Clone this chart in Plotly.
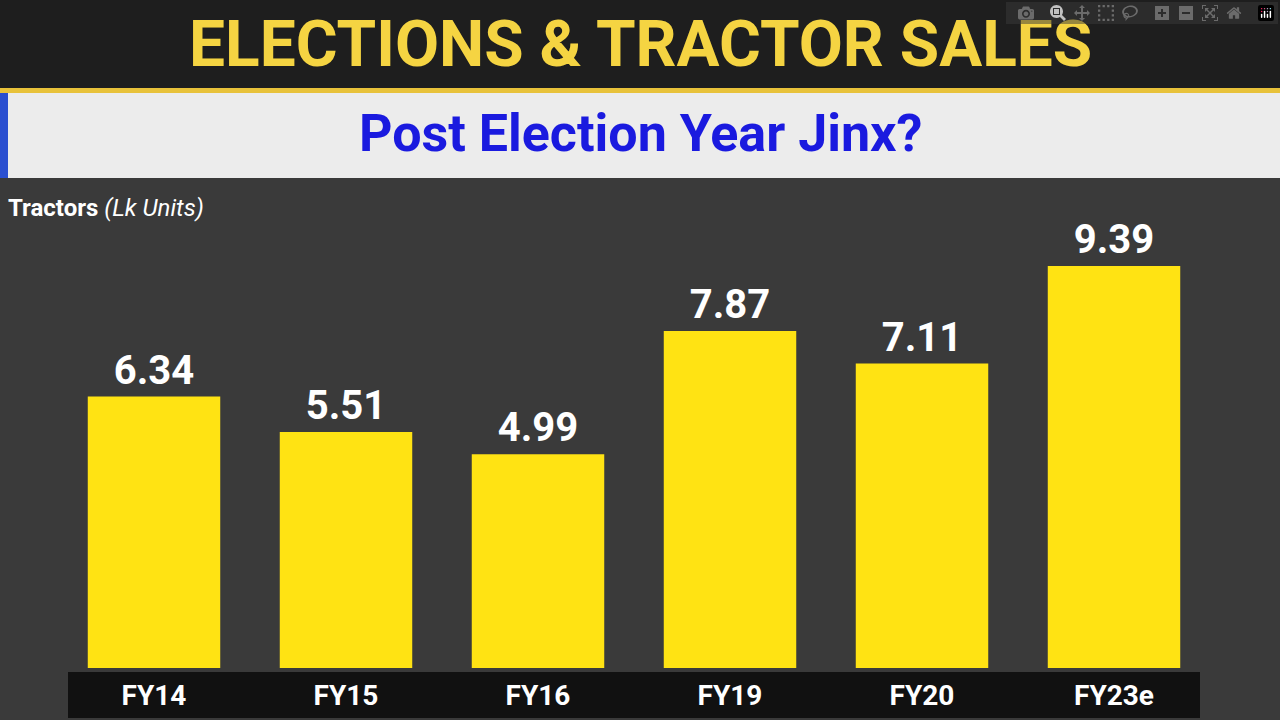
import plotly.graph_objects as go

# values
years = ["FY14", "FY15", "FY16", "FY19", "FY20", "FY23e"]
tractors = [6.34, 5.51, 4.99, 7.87, 7.11, 9.39]

title_main = "ELECTIONS & TRACTOR SALES"
title_sub = "Post Election Year Jinx?"

W, H = 1280, 720
base_px, top_px = 668, 178
px_per_unit = (668 - 266) / 9.39

fig = go.Figure(go.Bar(
    x=years, y=tractors,
    marker=dict(color="#FFE313", line=dict(width=0)),
    text=[f"<b>{v:.2f}</b>" for v in tractors], textposition="outside",
    textfont=dict(family="Roboto", size=40, color="white"),
    cliponaxis=False,
))

fig.update_layout(
    width=W, height=H, margin=dict(l=0, r=0, t=0, b=0),
    paper_bgcolor="#3a3a3a", plot_bgcolor="rgba(0,0,0,0)",
    showlegend=False, bargap=0.31,
    xaxis=dict(domain=[58 / W, 1210 / W], showgrid=False, showline=False,
               tickfont=dict(family="Roboto", size=28, color="white", weight="bold"),
               ticks="", ticklabelstandoff=8),
    yaxis=dict(domain=[(H - base_px) / H, (H - top_px) / H],
               range=[0, (base_px - top_px) / px_per_unit],
               visible=False),
    shapes=[
        # dark header band
        dict(type="rect", xref="paper", yref="paper", x0=0, x1=1, y0=1 - 88 / H, y1=1,
             fillcolor="#1e1e1e", line_width=0, layer="below"),
        # yellow rule
        dict(type="rect", xref="paper", yref="paper", x0=0, x1=1,
             y0=1 - 93 / H, y1=1 - 88 / H, fillcolor="#e8c23a", line_width=0),
        # subtitle band
        dict(type="rect", xref="paper", yref="paper", x0=0, x1=1,
             y0=1 - 178 / H, y1=1 - 93 / H, fillcolor="#ececec", line_width=0),
        dict(type="rect", xref="paper", yref="paper", x0=0, x1=8 / W,
             y0=1 - 178 / H, y1=1 - 93 / H, fillcolor="#2a4fd0", line_width=0),
        # black category strip
        dict(type="rect", xref="paper", yref="paper", x0=68 / W, x1=1200 / W,
             y0=2 / H, y1=1 - 672 / H, fillcolor="#111111", line_width=0, layer="below"),
    ],
    annotations=[
        dict(text=f"<b>{title_main}</b>", xref="paper", yref="paper", x=0.5, y=1 - 44 / H,
             yanchor="middle", showarrow=False,
             font=dict(family="Roboto", size=64, color="#f5d442")),
        dict(text=f"<b>{title_sub}</b>", xref="paper", yref="paper", x=0.5, y=1 - 133 / H,
             yanchor="middle", showarrow=False,
             font=dict(family="Roboto", size=52, color="#1a1adf")),
        dict(text="<b>Tractors</b> <i>(Lk Units)</i>", xref="paper", yref="paper",
             x=6 / W, y=1 - 208 / H, xanchor="left", yanchor="middle", showarrow=False,
             font=dict(family="Roboto", size=24, color="white")),
    ],
)

fig.write_html("out.html",
               post_script="document.body.style.margin='0';document.body.style.overflow='hidden';")
